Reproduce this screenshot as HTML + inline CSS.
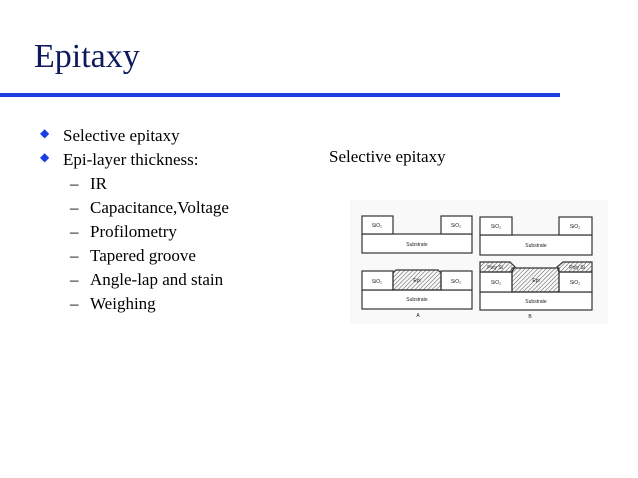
<!DOCTYPE html>
<html><head><meta charset="utf-8"><style>
body{margin:0;width:638px;height:478px;background:#fff;position:relative;overflow:hidden;font-family:"Liberation Serif",serif;}
.t{position:absolute;white-space:nowrap;color:#000;font-size:17px;line-height:1;}
</style></head><body>
<div class="t" style="left:34px;top:40px;font-size:34px;color:#0d1a5e;">Epitaxy</div>
<div style="position:absolute;left:0;top:93px;width:560px;height:4px;background:#1a3fe0;"></div>
<div class="t" style="left:40px;top:127px;color:#1a3fe0;font-size:12px;">◆</div>
<div class="t" style="left:63px;top:127px;">Selective epitaxy</div>
<div class="t" style="left:40px;top:151px;color:#1a3fe0;font-size:12px;">◆</div>
<div class="t" style="left:63px;top:151px;">Epi-layer thickness:</div>
<div class="t" style="left:70px;top:175px;">–</div><div class="t" style="left:90px;top:175px;">IR</div>
<div class="t" style="left:70px;top:199px;">–</div><div class="t" style="left:90px;top:199px;">Capacitance,Voltage</div>
<div class="t" style="left:70px;top:223px;">–</div><div class="t" style="left:90px;top:223px;">Profilometry</div>
<div class="t" style="left:70px;top:247px;">–</div><div class="t" style="left:90px;top:247px;">Tapered groove</div>
<div class="t" style="left:70px;top:271px;">–</div><div class="t" style="left:90px;top:271px;">Angle-lap and stain</div>
<div class="t" style="left:70px;top:295px;">–</div><div class="t" style="left:90px;top:295px;">Weighing</div>
<div class="t" style="left:329px;top:148px;">Selective epitaxy</div>
<svg style="position:absolute;left:0;top:0" width="638" height="478" font-family="Liberation Sans,sans-serif" font-size="5">
<defs><pattern id="h" width="3" height="3" patternUnits="userSpaceOnUse" patternTransform="rotate(45)"><line x1="0" y1="0" x2="0" y2="3" stroke="#555" stroke-width="1"/></pattern></defs>
<rect x="350" y="200" width="258" height="124" fill="#f9f9f9"/>
<g stroke="#333" stroke-width="1.2" fill="#fff">
<rect x="362" y="234" width="110" height="19"/><rect x="362" y="216" width="31" height="18"/><rect x="441" y="216" width="31" height="18"/>
<rect x="480" y="235" width="112" height="20"/><rect x="480" y="217" width="32" height="18"/><rect x="559" y="217" width="33" height="18"/>
<rect x="362" y="290" width="110" height="19"/><rect x="362" y="271" width="31" height="19"/><rect x="441" y="271" width="31" height="19"/>
<path d="M393 290V273L396 270H438L441 273V290Z" fill="url(#h)"/>
<rect x="480" y="292" width="112" height="18"/><rect x="480" y="272" width="32" height="20"/><rect x="559" y="272" width="33" height="20"/>
<path d="M512 292V268H559V292Z" fill="url(#h)"/>
<path d="M480 272V262H510L515 267L512 272Z" fill="url(#h)"/>
<path d="M592 272V262H563L557 267L559 272Z" fill="url(#h)"/>
</g>
<g fill="#222" text-anchor="middle">
<text x="377" y="227">SiO₂</text><text x="456" y="227">SiO₂</text><text x="417" y="246">Substrate</text>
<text x="496" y="228">SiO₂</text><text x="575" y="228">SiO₂</text><text x="536" y="247">Substrate</text>
<text x="377" y="283">SiO₂</text><text x="456" y="283">SiO₂</text><text x="417" y="282">Epi</text><text x="417" y="301">Substrate</text>
<text x="496" y="284">SiO₂</text><text x="575" y="284">SiO₂</text><text x="536" y="282">Epi</text><text x="536" y="303">Substrate</text>
<text x="495" y="269">Poly Si</text><text x="577" y="269">Poly Si</text>
<text x="418" y="317">A</text><text x="530" y="318">B</text>
</g>
</svg>
</body></html>
